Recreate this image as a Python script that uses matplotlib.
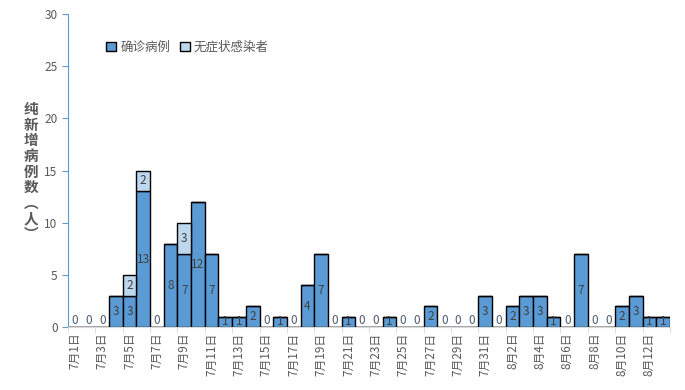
import numpy as np
import matplotlib.pyplot as plt

plt.rcParams['font.family'] = ['Noto Sans CJK SC', 'DejaVu Sans']

dates = ['7月1日', '7月2日', '7月3日', '7月4日', '7月5日', '7月6日', '7月7日', '7月8日',
         '7月9日', '7月10日', '7月11日', '7月12日', '7月13日', '7月14日', '7月15日',
         '7月16日', '7月17日', '7月18日', '7月19日', '7月20日', '7月21日', '7月22日',
         '7月23日', '7月24日', '7月25日', '7月26日', '7月27日', '7月28日', '7月29日',
         '7月30日', '7月31日', '8月1日', '8月2日', '8月3日', '8月4日', '8月5日',
         '8月6日', '8月7日', '8月8日', '8月9日', '8月10日', '8月11日', '8月12日', '8月13日']
confirmed = [0, 0, 0, 3, 3, 13, 0, 8, 7, 12, 7, 1, 1, 2, 0, 1, 0, 4, 7, 0, 1, 0,
             0, 1, 0, 0, 2, 0, 0, 0, 3, 0, 2, 3, 3, 1, 0, 7, 0, 0, 2, 3, 1, 1]
asymptomatic = [0, 0, 0, 0, 2, 2, 0, 0, 3, 0, 0, 0, 0, 0, 0, 0, 0, 0, 0, 0, 0, 0,
                0, 0, 0, 0, 0, 0, 0, 0, 0, 0, 0, 0, 0, 0, 0, 0, 0, 0, 0, 0, 0, 0]

gray = '#595959'
c1 = '#5B9BD5'
c2 = '#BDD7EE'

fig = plt.figure(figsize=(6.85, 3.9), dpi=100)
ax = fig.add_axes([0.0993, 0.1615, 0.8787, 0.8025])

x = np.arange(len(dates))
ax.bar(x, confirmed, width=1.0, color=c1, edgecolor='black', linewidth=1, label='确诊病例')
ax.bar(x, asymptomatic, width=1.0, bottom=confirmed, color=c2, edgecolor='black',
       linewidth=1, label='无症状感染者')

for i, (c, a) in enumerate(zip(confirmed, asymptomatic)):
    if c == 0:
        ax.text(i, 0.0, '0', ha='center', va='bottom', fontsize=8.5, color='#4a5a70')
    else:
        ax.text(i, c / 2, str(c), ha='center', va='center', fontsize=8.5, color='#404040')
    if a > 0:
        ax.text(i, c + a / 2, str(a), ha='center', va='center', fontsize=8.5, color='#404040')

ax.set_xlim(-0.5, len(dates) - 0.5)
ax.set_ylim(0, 30)
ax.set_yticks(range(0, 31, 5))
ax.tick_params(axis='y', colors=gray, labelsize=8.5, length=4, color=c1)

ax.set_xticks(x[::2])
ax.set_xticklabels(dates[::2], rotation=90, fontsize=8.5, color=gray)
ax.tick_params(axis='x', length=0, pad=4)
ax.set_xticks(np.arange(-0.5, len(dates), 2), minor=True)
ax.tick_params(axis='x', which='minor', length=4, color='#d9d9d9')

for s in ['top', 'right']:
    ax.spines[s].set_visible(False)
ax.spines['left'].set_color(c1)
ax.spines['bottom'].set_color('#d9d9d9')

fig.text(0.045, 0.56, '纯\n新\n增\n病\n例\n数\n︵\n人\n︶', ha='center', va='center',
         fontsize=10.5, fontweight='bold', color=gray, linespacing=0.97)

ax.legend(loc='upper left', bbox_to_anchor=(0.045, 0.95), ncol=2, frameon=False,
          fontsize=9, handlelength=0.8, handleheight=0.8, handletextpad=0.3,
          columnspacing=0.8, labelcolor=gray)

fig.savefig('out.png', dpi=100)
